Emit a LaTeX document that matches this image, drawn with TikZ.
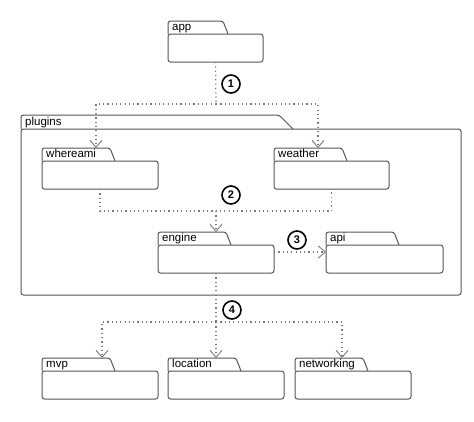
\documentclass[tikz,border=0pt]{standalone}
\usepackage{fontspec}
\setmainfont{Liberation Sans}
\usetikzlibrary{arrows.meta,positioning,calc}

\definecolor{pkgline}{HTML}{555555}
\definecolor{depline}{HTML}{7A7A7A}

% package: name, left x, tab top y, body width, tab width, label
\newcommand{\umlpkg}[6]{%
  \node[pkgbody, minimum width=#4pt, anchor=north west] (#1) at (#2,#3+13) {};
  \draw[pkgtab] (#2,#3+13) -- (#2,#3) -- (#2+#5-5,#3) -- (#2+#5,#3+13);
  \node[pkglabel] (#1 label) at (#2+4,#3+9.5) {#6};
}

\begin{document}
\begin{tikzpicture}[
  x=1pt, y=-1pt,
  pkgbody/.style={draw=pkgline, line width=1pt, rounded corners=2.5pt, minimum height=28pt, inner sep=0pt, outer sep=0pt},
  pkgtab/.style={draw=pkgline, line width=1pt, rounded corners=2.5pt},
  pkglabel/.style={anchor=base west, inner sep=0pt, font=\fontsize{11.5}{13}\selectfont},
  depl/.style={draw=depline, line width=1.2pt, dash pattern=on 1.2pt off 3.1pt},
  dep/.style={depl, -{Straight Barb[length=7pt, width=12pt, line width=0.9pt]}},
  stepnum/.style={circle, draw=black, line width=1.6pt, minimum size=18pt, inner sep=0pt, font=\bfseries\fontsize{11}{11}\selectfont}
]
  \fill[white] (0,0) rectangle (474,421);
  \useasboundingbox (0,0) rectangle (474,421);

  % plugins frame
  \node[pkgbody, minimum width=440pt, minimum height=166pt, anchor=north west] (plugins) at (21,129) {};
  \draw[pkgtab] (21,129) -- (21,115) -- (279,115) -- (293,129);
  \node[pkglabel] (plugins label) at (25,125) {plugins};

  % packages
  \umlpkg{app}{168}{21}{95}{60}{app}
  \umlpkg{whereami}{42}{148}{116}{73}{whereami}
  \umlpkg{weather}{274}{148}{115}{73}{weather}
  \umlpkg{engine}{158}{232}{116}{73}{engine}
  \umlpkg{api}{326}{232}{117}{73}{api}
  \umlpkg{mvp}{42}{358}{116}{73}{mvp}
  \umlpkg{location}{168}{358}{116}{73}{location}
  \umlpkg{networking}{295}{358}{116}{73}{networking}

  % arrow entry points
  \coordinate (whereami in) at (96,148);
  \coordinate (weather in) at (318,148);
  \coordinate (engine in) at (216,232);
  \coordinate (mvp in) at (102,358);
  \coordinate (location in) at (216,358);
  \coordinate (networking in) at (342,358);

  % 1
  \coordinate (j1) at (216,104);
  \draw[depl] (app.south) -- (j1);
  \draw[dep] (j1) -| (whereami in);
  \draw[dep] (j1) -| (weather in);
  \node[stepnum] (n1) at (231,84) {1};

  % 2
  \coordinate (j2) at (216,211);
  \draw[depl] (whereami.south) |- (j2) -| (weather.south);
  \draw[dep] (j2) -- (engine in);
  \node[stepnum] (n2) at (231,195) {2};

  % 3
  \draw[dep] ([yshift=7pt]engine.east) -- ([yshift=7pt]api.west);
  \node[stepnum] (n3) at (297,240) {3};

  % 4
  \coordinate (j4) at (216,322);
  \draw[depl] (engine.south) -- (j4);
  \draw[dep] (j4) -| (mvp in);
  \draw[dep] (j4) -- (location in);
  \draw[dep] (j4) -| (networking in);
  \node[stepnum] (n4) at (232,310) {4};
\end{tikzpicture}
\end{document}
